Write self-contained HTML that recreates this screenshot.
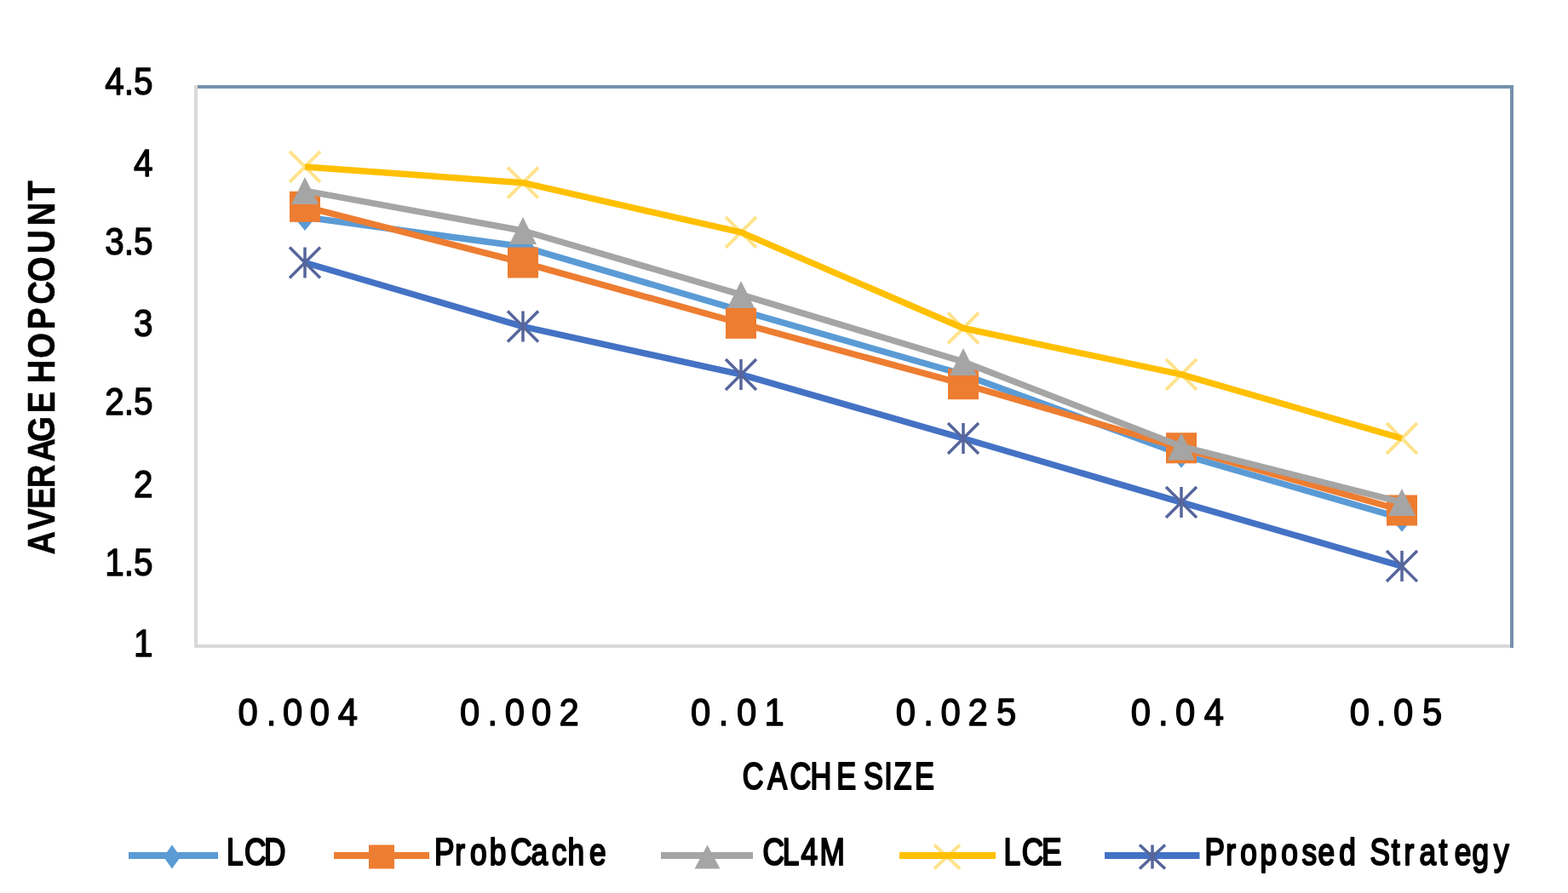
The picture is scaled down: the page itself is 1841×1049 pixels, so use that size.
<!DOCTYPE html>
<html><head><meta charset="utf-8"><title>Average Hopcount vs Cache Size</title>
<style>
html,body{margin:0;padding:0;background:#fff;}
body{width:1841px;height:1049px;overflow:hidden;}
svg{display:block;}
text{font-family:"Liberation Sans",Arial,sans-serif;fill:#000;stroke:#000;stroke-width:1.4px;stroke-linejoin:round;}
text.b{stroke-width:0.6px;}
text.c{stroke-width:2.2px;}
</style></head><body>
<svg width="1841" height="1049" viewBox="0 0 1841 1049">
<rect width="1841" height="1049" fill="#fff"/>

<rect x="228" y="100" width="1549" height="4" fill="#7691ad"/>
<rect x="1773" y="100" width="4" height="661" fill="#7691ad"/>
<rect x="228" y="100" width="4" height="661" fill="#d9d9d9"/>
<rect x="228" y="757" width="1545" height="4" fill="#d9d9d9"/>
<text transform="translate(179.5,111) scale(0.92,1)" x="0" y="0" font-size="44" text-anchor="end">4.5</text>
<text transform="translate(179.5,207) scale(0.92,1)" x="0" y="0" font-size="44" text-anchor="end">4</text>
<text transform="translate(179.5,299) scale(0.92,1)" x="0" y="0" font-size="44" text-anchor="end">3.5</text>
<text transform="translate(179.5,395) scale(0.92,1)" x="0" y="0" font-size="44" text-anchor="end">3</text>
<text transform="translate(179.5,487) scale(0.92,1)" x="0" y="0" font-size="44" text-anchor="end">2.5</text>
<text transform="translate(179.5,584) scale(0.92,1)" x="0" y="0" font-size="44" text-anchor="end">2</text>
<text transform="translate(179.5,676) scale(0.92,1)" x="0" y="0" font-size="44" text-anchor="end">1.5</text>
<text transform="translate(179.5,771) scale(0.92,1)" x="0" y="0" font-size="44" text-anchor="end">1</text>
<text transform="translate(280.50,851.7) scale(0.950,1)" x="-0.98 33.88 54.28 87.54 122.36" y="0" font-size="44">0.004</text>
<text transform="translate(541.00,851.7) scale(0.950,1)" x="-0.98 33.04 54.39 87.44 121.68" y="0" font-size="44">0.002</text>
<text transform="translate(812.00,851.7) scale(0.950,1)" x="-0.98 33.35 55.86 90.02" y="0" font-size="44">0.01</text>
<text transform="translate(1052.80,851.7) scale(0.950,1)" x="-0.98 33.14 54.39 88.21 123.40" y="0" font-size="44">0.025</text>
<text transform="translate(1328.70,851.7) scale(0.950,1)" x="-0.98 33.04 54.07 89.52" y="0" font-size="44">0.04</text>
<text transform="translate(1585.70,851.7) scale(0.950,1)" x="-0.98 31.56 53.02 88.76" y="0" font-size="44">0.05</text>
<text transform="translate(64,649.4) rotate(-90) scale(0.850,1)" x="-2.5 31.6 60.7 89.6 125.7 153.4 193.1 213.1 234.2 268.9 308.6 343.3 374.2 413.7 451.9 486.7" y="0" font-size="45" font-weight="bold" class="b">AVERAGE HOPCOUNT</text>
<defs><clipPath id="pc"><rect x="232" y="104" width="1433" height="653"/></clipPath></defs>
<g clip-path="url(#pc)">
<path d="M358.0,255.0 L614.0,289.8 L870.0,364.8 L1131.0,439.9 L1387.0,533.8 L1646.0,608.8" fill="none" stroke="#5b9bd5" stroke-width="7.5" stroke-linejoin="round"/>
<polygon points="358.0,239.0 371.0,255.0 358.0,271.0 345.0,255.0" fill="#5b9bd5"/>
<polygon points="614.0,273.8 627.0,289.8 614.0,305.8 601.0,289.8" fill="#5b9bd5"/>
<polygon points="870.0,348.8 883.0,364.8 870.0,380.8 857.0,364.8" fill="#5b9bd5"/>
<polygon points="1131.0,423.9 1144.0,439.9 1131.0,455.9 1118.0,439.9" fill="#5b9bd5"/>
<polygon points="1387.0,517.8 1400.0,533.8 1387.0,549.8 1374.0,533.8" fill="#5b9bd5"/>
<polygon points="1646.0,592.8 1659.0,608.8 1646.0,624.8 1633.0,608.8" fill="#5b9bd5"/>
<path d="M358.0,242.8 L614.0,308.5 L870.0,379.8 L1131.0,451.2 L1387.0,526.3 L1646.0,599.5" fill="none" stroke="#ed7d31" stroke-width="7.5" stroke-linejoin="round"/>
<rect x="340.0" y="224.8" width="36.0" height="36.0" fill="#ed7d31"/>
<rect x="596.0" y="290.5" width="36.0" height="36.0" fill="#ed7d31"/>
<rect x="852.0" y="361.8" width="36.0" height="36.0" fill="#ed7d31"/>
<rect x="1113.0" y="433.2" width="36.0" height="36.0" fill="#ed7d31"/>
<rect x="1369.0" y="508.3" width="36.0" height="36.0" fill="#ed7d31"/>
<rect x="1628.0" y="581.5" width="36.0" height="36.0" fill="#ed7d31"/>
<path d="M358.0,224.1 L614.0,271.0 L870.0,346.1 L1131.0,424.9 L1387.0,524.4 L1646.0,590.1" fill="none" stroke="#a5a5a5" stroke-width="7.5" stroke-linejoin="round"/>
<polygon points="358.0,208.1 374.0,240.1 342.0,240.1" fill="#a5a5a5"/>
<polygon points="614.0,255.0 630.0,287.0 598.0,287.0" fill="#a5a5a5"/>
<polygon points="870.0,330.1 886.0,362.1 854.0,362.1" fill="#a5a5a5"/>
<polygon points="1131.0,408.9 1147.0,440.9 1115.0,440.9" fill="#a5a5a5"/>
<polygon points="1387.0,508.4 1403.0,540.4 1371.0,540.4" fill="#a5a5a5"/>
<polygon points="1646.0,574.1 1662.0,606.1 1630.0,606.1" fill="#a5a5a5"/>
<path d="M358.0,195.9 L614.0,214.7 L870.0,272.9 L1131.0,385.5 L1387.0,439.9 L1646.0,515.0" fill="none" stroke="#ffc000" stroke-width="7.5" stroke-linejoin="round"/>
<path d="M340.0,177.9L376.0,213.9M340.0,213.9L376.0,177.9" stroke="#ffc000" stroke-width="4" fill="none" opacity="0.45"/>
<path d="M596.0,196.7L632.0,232.7M596.0,232.7L632.0,196.7" stroke="#ffc000" stroke-width="4" fill="none" opacity="0.45"/>
<path d="M852.0,254.9L888.0,290.9M852.0,290.9L888.0,254.9" stroke="#ffc000" stroke-width="4" fill="none" opacity="0.45"/>
<path d="M1113.0,367.5L1149.0,403.5M1113.0,403.5L1149.0,367.5" stroke="#ffc000" stroke-width="4" fill="none" opacity="0.45"/>
<path d="M1369.0,421.9L1405.0,457.9M1369.0,457.9L1405.0,421.9" stroke="#ffc000" stroke-width="4" fill="none" opacity="0.45"/>
<path d="M1628.0,497.0L1664.0,533.0M1628.0,533.0L1664.0,497.0" stroke="#ffc000" stroke-width="4" fill="none" opacity="0.45"/>
<path d="M358.0,308.5 L614.0,383.6 L870.0,439.9 L1131.0,515.0 L1387.0,590.1 L1646.0,665.1" fill="none" stroke="#4472c4" stroke-width="7.5" stroke-linejoin="round"/>
<path d="M340.0,290.5L376.0,326.5M340.0,326.5L376.0,290.5M358.0,290.5L358.0,326.5" stroke="#56669c" stroke-width="3.5" fill="none"/>
<path d="M596.0,365.6L632.0,401.6M596.0,401.6L632.0,365.6M614.0,365.6L614.0,401.6" stroke="#56669c" stroke-width="3.5" fill="none"/>
<path d="M852.0,421.9L888.0,457.9M852.0,457.9L888.0,421.9M870.0,421.9L870.0,457.9" stroke="#56669c" stroke-width="3.5" fill="none"/>
<path d="M1113.0,497.0L1149.0,533.0M1113.0,533.0L1149.0,497.0M1131.0,497.0L1131.0,533.0" stroke="#56669c" stroke-width="3.5" fill="none"/>
<path d="M1369.0,572.1L1405.0,608.1M1369.0,608.1L1405.0,572.1M1387.0,572.1L1387.0,608.1" stroke="#56669c" stroke-width="3.5" fill="none"/>
<path d="M1628.0,647.1L1664.0,683.1M1628.0,683.1L1664.0,647.1M1646.0,647.1L1646.0,683.1" stroke="#56669c" stroke-width="3.5" fill="none"/>
</g>
<rect x="151.0" y="1001" width="105.0" height="8" fill="#5b9bd5"/>
<polygon points="202.0,992.5 212.0,1006.5 202.0,1020.5 192.0,1006.5" fill="#5b9bd5"/>
<text class="c" transform="translate(268.10,1015.60) scale(0.800,1)" x="-2.73 23.77 52.39" y="0" font-size="44">LCD</text>
<rect x="392.0" y="1001" width="112.0" height="8" fill="#ed7d31"/>
<rect x="433.0" y="992.5" width="30.0" height="28.0" fill="#ed7d31"/>
<text class="c" transform="translate(512.20,1015.60) scale(0.800,1)" x="-2.73 27.70 49.78 78.29 108.89 139.01 169.51 192.95 224.76" y="0" font-size="44">ProbCache</text>
<rect x="776.0" y="1001" width="108.0" height="8" fill="#a5a5a5"/>
<polygon points="830.5,992.5 845.5,1020.5 815.5,1020.5" fill="#a5a5a5"/>
<text class="c" transform="translate(896.50,1015.60) scale(0.800,1)" x="-1.36 27.89 55.12 82.64" y="0" font-size="44">CL4M</text>
<rect x="1056.0" y="1001" width="113.0" height="8" fill="#ffc000"/>
<path d="M1097.0,992.5L1127.0,1020.5M1097.0,1020.5L1127.0,992.5" stroke="#ffc000" stroke-width="4" fill="none" opacity="0.45"/>
<text class="c" transform="translate(1180.80,1015.60) scale(0.800,1)" x="-2.73 23.77 52.77" y="0" font-size="44">LCE</text>
<rect x="1297.0" y="1001" width="111.5" height="8" fill="#4472c4"/>
<path d="M1338.0,992.5L1368.0,1020.5M1338.0,1020.5L1368.0,992.5M1353.0,992.5L1353.0,1020.5" stroke="#56669c" stroke-width="3.5" fill="none"/>
<text class="c" transform="translate(1416.70,1015.60) scale(0.800,1)" x="-2.73 28.33 49.40 78.66 109.40 139.65 163.51 194.40 204.40 239.75 271.46 289.83 312.13 341.08 363.76 389.65 421.64" y="0" font-size="44">Proposed Strategy</text>
<text class="c" transform="translate(872.90,927.40) scale(0.780,1)" x="-1.34 36.45 70.07 100.88 140.11 150.11 180.82 211.84 226.55 257.67" y="0" font-size="44">CACHE SIZE</text>
</svg></body></html>
